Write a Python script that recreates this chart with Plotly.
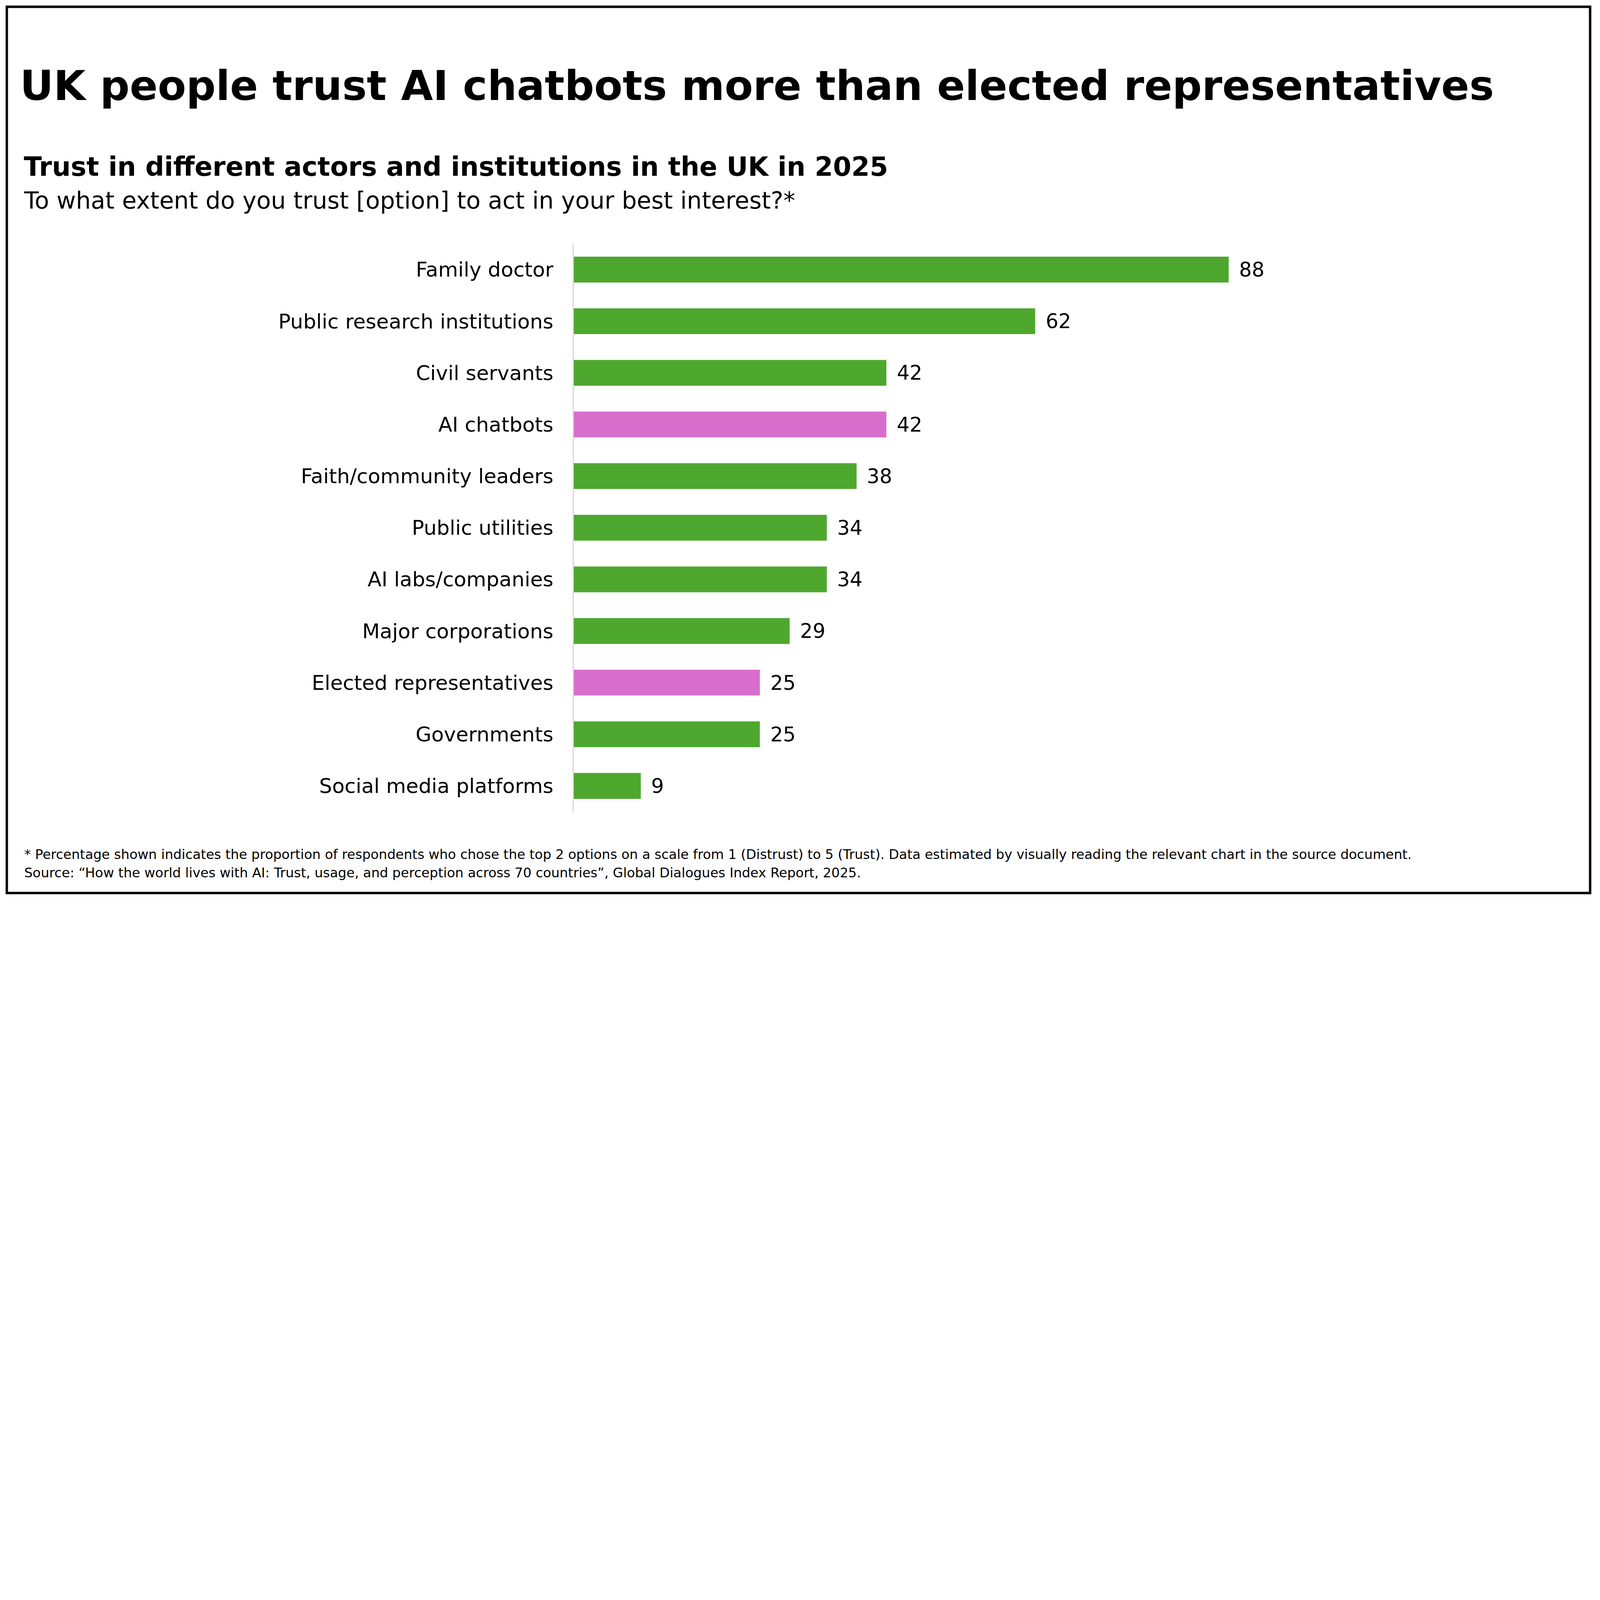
import plotly.graph_objects as go

categories = ["Family doctor", "Public research institutions", "Civil servants", "AI chatbots",
              "Faith/community leaders", "Public utilities", "AI labs/companies",
              "Major corporations", "Elected representatives", "Governments",
              "Social media platforms"]
values = [88, 62, 42, 42, 38, 34, 34, 29, 25, 25, 9]
highlight = ["AI chatbots", "Elected representatives"]

GREEN = "#4EA72E"
PINK = "#D86ECC"
colors = [PINK if c in highlight else GREEN for c in categories]

# design coordinates are in the 8000x4500 reference frame, scaled by S
W, H = 4096, 2304
S = W / 8000.0
L, R_PX = 2869, 6589
T, B_PX = 1219, 4058
PW, PH = R_PX - L, B_PX - T

def px(x):
    return (x - L) / PW

def py(y):
    return (B_PX - y) / PH

def f(v):
    return v * S

FONT = "DejaVu Sans"

fig = go.Figure()
fig.add_trace(go.Bar(
    x=values, y=categories, orientation="h", marker=dict(color=colors, line=dict(width=0)),
    width=0.5, showlegend=False, hoverinfo="skip"))

annotations = []
for c, v in zip(categories, values):
    annotations.append(dict(x=v, y=c, xref="x", yref="y", text=str(v), showarrow=False,
                            xanchor="left", yanchor="middle", xshift=f(48),
                            font=dict(family=FONT, size=f(100), color="black")))

annotations += [
    dict(x=px(97), y=py(430), xref="paper", yref="paper", xanchor="left", yanchor="middle",
         text="<b>UK people trust AI chatbots more than elected representatives</b>", showarrow=False,
         font=dict(family=FONT, size=f(207), color="black")),
    dict(x=px(115), y=py(834), xref="paper", yref="paper", xanchor="left", yanchor="middle",
         text="<b>Trust in different actors and institutions in the UK in 2025</b>", showarrow=False,
         font=dict(family=FONT, size=f(132), color="black")),
    dict(x=px(115), y=py(1003), xref="paper", yref="paper", xanchor="left", yanchor="middle",
         text="To what extent do you trust [option] to act in your best interest?*", showarrow=False,
         font=dict(family=FONT, size=f(118), color="black")),
    dict(x=px(118), y=py(4271), xref="paper", yref="paper", xanchor="left", yanchor="middle",
         text="* Percentage shown indicates the proportion of respondents who chose the top 2 options on a scale from 1 (Distrust) to 5 (Trust). Data estimated by visually reading the relevant chart in the source document.",
         showarrow=False, font=dict(family=FONT, size=f(66.5), color="black")),
    dict(x=px(118), y=py(4363), xref="paper", yref="paper", xanchor="left", yanchor="middle",
         text="Source: \u201cHow the world lives with AI: Trust, usage, and perception across 70 countries\u201d, Global Dialogues Index Report, 2025.",
         showarrow=False, font=dict(family=FONT, size=f(66.5), color="black")),
]

fig.update_layout(
    width=W, height=H,
    margin=dict(l=f(L), r=f(8000 - R_PX), t=f(T), b=f(4500 - B_PX), pad=0),
    paper_bgcolor="white", plot_bgcolor="white",
    bargap=0.5,
    xaxis=dict(range=[0, 100], visible=False, fixedrange=True),
    yaxis=dict(categoryorder="array", categoryarray=categories, autorange="reversed",
               showline=True, linecolor="#d9d9d9", linewidth=f(5), showgrid=False, zeroline=False,
               ticks="", ticklabelstandoff=int(round(f(76))), fixedrange=True,
               tickfont=dict(family=FONT, size=f(102), color="black")),
    annotations=annotations,
    shapes=[dict(type="rect", xref="paper", yref="paper", x0=px(34.5), x1=px(7949.5),
                 y0=py(34.5), y1=py(4464.5),
                 line=dict(color="black", width=f(12)), fillcolor="rgba(0,0,0,0)", layer="below")],
)

fig.write_html("out.html", config={"displayModeBar": False},
               post_script="document.body.style.margin='0';document.body.style.overflow='hidden';")
